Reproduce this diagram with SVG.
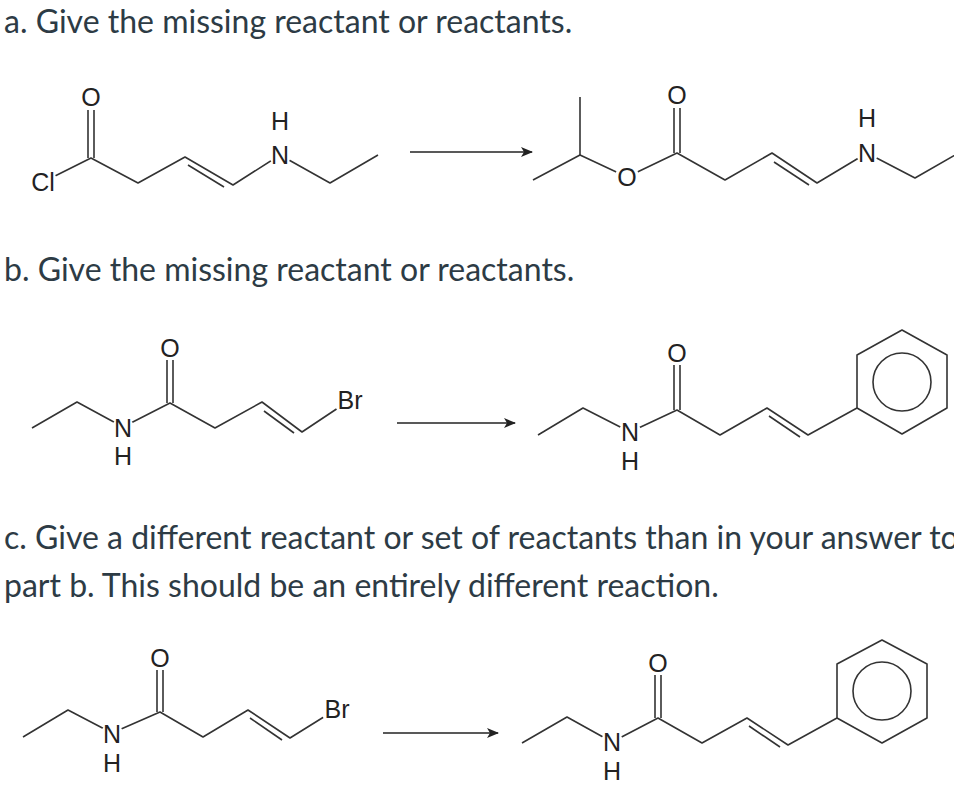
<svg xmlns="http://www.w3.org/2000/svg" width="954" height="802" viewBox="0 0 954 802">
<style>
.h{font-family:Lato,"Liberation Sans",sans-serif;font-size:32px;fill:#2d3b45}
.b{stroke:#333;stroke-width:1.6;fill:none;stroke-linejoin:round}
.at{font-family:"Liberation Sans",Arial,sans-serif;font-size:25px;fill:#222;text-anchor:middle;dominant-baseline:central}
.m{fill:#fff}
.ar{stroke:#222;stroke-width:1.6;fill:none}
</style>
<defs>
<marker id="ah" markerWidth="12" markerHeight="10" refX="11" refY="5" orient="auto" markerUnits="userSpaceOnUse"><path d="M0,0 L12,5 L0,10 L3,5 Z" fill="#222"/></marker>
</defs>
<rect width="954" height="802" fill="#fff"/>
<text class="h" x="4" y="33">a. Give the missing reactant or reactants.</text>
<text class="h" x="4" y="281">b. Give the missing reactant or reactants.</text>
<text class="h" x="4" y="549">c. Give a different reactant or set of reactants than in your answer to</text>
<text class="h" x="4" y="597">part b. This should be an entirely different reaction.</text>

<g id="a-reactant">
<polyline class="b" points="43,182 91,158 138,183 185,157 233,185 280,155 330,183 378,155"/>
<line class="b" x1="88" y1="158" x2="88" y2="110"/><line class="b" x1="94" y1="158" x2="94" y2="110"/>
<line class="b" x1="188" y1="165" x2="224" y2="187"/>
<circle class="m" cx="43" cy="182" r="14"/><circle class="m" cx="280" cy="155" r="11"/>
<text class="at" x="91" y="97">O</text><text class="at" x="43" y="182">Cl</text>
<text class="at" x="280" y="155">N</text><text class="at" x="280" y="121">H</text>
</g>
<g id="a-product">
<line class="b" x1="580" y1="97" x2="580" y2="155"/>
<polyline class="b" points="533,180 580,155 627,177 677,153 725,180 772,153 817,183 867,153 915,178 962,151"/>
<line class="b" x1="674" y1="153" x2="674" y2="108"/><line class="b" x1="680" y1="153" x2="680" y2="108"/>
<line class="b" x1="774" y1="162" x2="809" y2="185"/>
<circle class="m" cx="627" cy="177" r="12"/><circle class="m" cx="867" cy="153" r="11"/>
<text class="at" x="627" y="177">O</text><text class="at" x="677" y="95">O</text>
<text class="at" x="867" y="153">N</text><text class="at" x="867" y="118">H</text>
</g>
<g id="b-reactant">
<polyline class="b" points="32,428 77,402 123,427 170,403 215,428 262,402 302,432 350,400"/>
<line class="b" x1="167" y1="403" x2="167" y2="360"/><line class="b" x1="173" y1="403" x2="173" y2="360"/>
<line class="b" x1="264" y1="411" x2="294" y2="433"/>
<circle class="m" cx="123" cy="428" r="11"/><circle class="m" cx="348" cy="401" r="14"/>
<text class="at" x="170" y="348">O</text><text class="at" x="123" y="428">N</text><text class="at" x="123" y="456">H</text>
<text class="at" x="350" y="400">Br</text>
</g>
<g id="b-product">
<polyline class="b" points="538,435 583,408 630,432 677,410 720,435 767,408 808,435 857,408"/>
<line class="b" x1="674" y1="410" x2="674" y2="365"/><line class="b" x1="680" y1="410" x2="680" y2="365"/>
<line class="b" x1="769" y1="416" x2="800" y2="437"/>
<polygon class="b" points="857,408 857,355 902,330 947,355 947,408 902,434"/>
<circle class="b" cx="902" cy="382" r="29"/>
<circle class="m" cx="630" cy="432" r="11"/>
<text class="at" x="677" y="353">O</text><text class="at" x="630" y="432">N</text><text class="at" x="630" y="461">H</text>
</g>
<g id="c-reactant">
<polyline class="b" points="23,737 68,710 112,733 160,712 203,737 248,710 290,738 335,710"/>
<line class="b" x1="157" y1="712" x2="157" y2="670"/><line class="b" x1="163" y1="712" x2="163" y2="670"/>
<line class="b" x1="250" y1="718" x2="282" y2="740"/>
<circle class="m" cx="112" cy="734" r="11"/><circle class="m" cx="335" cy="710" r="14"/>
<text class="at" x="160" y="658">O</text><text class="at" x="112" y="734">N</text><text class="at" x="112" y="763">H</text>
<text class="at" x="337" y="709">Br</text>
</g>
<g id="c-product">
<polyline class="b" points="522,743 567,717 612,742 658,718 702,743 747,718 788,745 837,718"/>
<line class="b" x1="655" y1="718" x2="655" y2="675"/><line class="b" x1="661" y1="718" x2="661" y2="675"/>
<line class="b" x1="749" y1="726" x2="780" y2="747"/>
<polygon class="b" points="837,718 837,664 882,640 927,664 927,718 882,743"/>
<circle class="b" cx="882" cy="691" r="29"/>
<circle class="m" cx="612" cy="742" r="11"/>
<text class="at" x="658" y="663">O</text><text class="at" x="612" y="742">N</text><text class="at" x="612" y="771">H</text>
</g>
<g id="connectors">
<line class="ar" x1="410" y1="152" x2="532" y2="152" marker-end="url(#ah)"/>
<line class="ar" x1="397" y1="423" x2="515" y2="423" marker-end="url(#ah)"/>
<line class="ar" x1="383" y1="733" x2="498" y2="733" marker-end="url(#ah)"/>
</g>
</svg>
